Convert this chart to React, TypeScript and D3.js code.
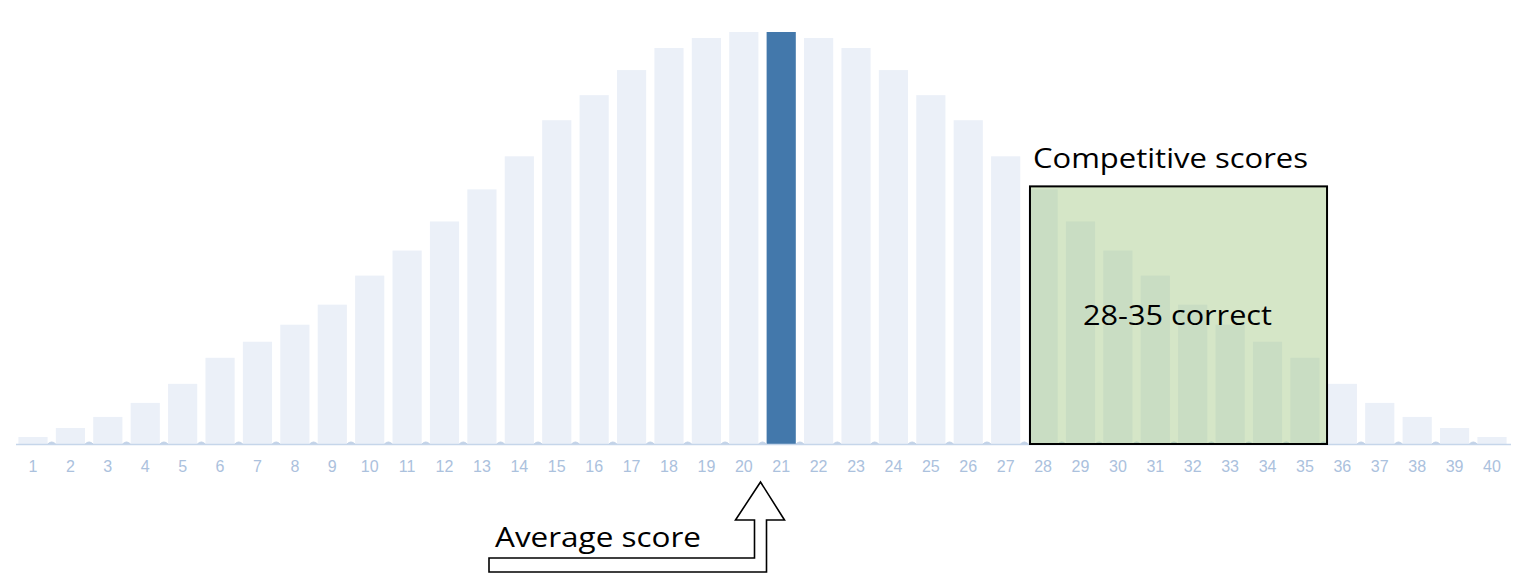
import React from "react";
import * as d3 from "d3";

const scores: number[] = [
  1, 2, 3, 4, 5, 6, 7, 8, 9, 10, 11, 12, 13, 14, 15, 16, 17, 18, 19, 20,
  21, 22, 23, 24, 25, 26, 27, 28, 29, 30, 31, 32, 33, 34, 35, 36, 37, 38, 39, 40,
];
const counts: number[] = [
  7, 16, 27, 41, 60, 86, 102, 119, 139, 168, 193, 222, 254, 287, 323, 348, 373, 395, 405, 411,
  411, 405, 395, 373, 348, 323, 287, 254, 222, 193, 168, 139, 119, 102, 86, 60, 41, 27, 16, 7,
];
const averageScore = 21;
const competitiveRange: [number, number] = [28, 35];
const competitiveTitle = "Competitive scores";
const competitiveLabel = "28-35 correct";
const averageLabel = "Average score";

const W = 1536;
const H = 580;
const BASE = 444;

export default function App() {
  const x = d3
    .scaleBand<number>()
    .domain(scores)
    .range([14.3, 1510.7])
    .paddingInner(0.22)
    .paddingOuter(0.11);
  const y = d3.scaleLinear().domain([0, 411]).range([BASE, 32]);
  const bw = x.bandwidth();
  const step = x.step();

  const boxX0 = (x(competitiveRange[0]) as number) + 1.5;
  const boxX1 = (x(competitiveRange[1]) as number) + bw + 7.5;
  const boxTop = y(counts[scores.indexOf(competitiveRange[0])]) - 3;

  const tipX = (x(averageScore) as number) - (step - bw) / 2 - 2;
  const shaftL = tipX - 6;
  const shaftR = tipX + 6;
  const headY = 520;
  const tipY = 482;
  const arrowPts: [number, number][] = [
    [489, 558],
    [shaftL, 558],
    [shaftL, headY],
    [tipX - 25, headY],
    [tipX, tipY],
    [tipX + 24, headY],
    [shaftR, headY],
    [shaftR, 572],
    [489, 572],
  ];

  const font = "'Open Sans', 'Liberation Sans', sans-serif";

  return (
    <svg
      width={W}
      height={H}
      style={{ position: "fixed", left: 0, top: 0, background: "#ffffff" }}
    >
      <rect x={0} y={0} width={W} height={H} fill="#ffffff" />
      {scores.map((s, i) => (
        <rect
          key={s}
          x={x(s)}
          y={y(counts[i])}
          width={bw}
          height={BASE - y(counts[i])}
          fill={s === averageScore ? "#4378ab" : "#ebf0f8"}
        />
      ))}
      <line x1={16} x2={1511} y1={BASE + 0.5} y2={BASE + 0.5} stroke="#c6d6ea" strokeWidth={1.6} />
      {scores.slice(0, -1).map((s) => {
        const cx = (x(s) as number) + bw + (step - bw) / 2;
        return (
          <path
            key={"b" + s}
            d={`M${cx - 4},${BASE} Q${cx},${BASE - 4} ${cx + 4},${BASE}`}
            fill="#c3d3e8"
            stroke="#c3d3e8"
            strokeWidth={1}
          />
        );
      })}
      {scores.map((s) => (
        <text
          key={"t" + s}
          x={(x(s) as number) + bw / 2}
          y={472}
          textAnchor="middle"
          fontFamily="'Liberation Sans', Arial, sans-serif"
          fontSize={16}
          fill="#abc1dd"
        >
          {s}
        </text>
      ))}
      <rect
        x={boxX0}
        y={boxTop}
        width={boxX1 - boxX0}
        height={BASE - boxTop}
        fill="rgb(150,192,115)"
        fillOpacity={0.4}
        stroke="#000000"
        strokeWidth={2}
      />
      <text
        x={1033}
        y={168}
        fontFamily={font}
        fontSize={28}
        fill="#000000"
        textLength={275}
        lengthAdjust="spacingAndGlyphs"
      >
        {competitiveTitle}
      </text>
      <text
        x={1083}
        y={325}
        fontFamily={font}
        fontSize={28}
        fill="#000000"
        textLength={189}
        lengthAdjust="spacingAndGlyphs"
      >
        {competitiveLabel}
      </text>
      <polygon
        points={arrowPts.map((p) => p.join(",")).join(" ")}
        fill="#ffffff"
        stroke="#000000"
        strokeWidth={1.6}
      />
      <text
        x={495}
        y={547}
        fontFamily={font}
        fontSize={28}
        fill="#000000"
        textLength={206}
        lengthAdjust="spacingAndGlyphs"
      >
        {averageLabel}
      </text>
    </svg>
  );
}
